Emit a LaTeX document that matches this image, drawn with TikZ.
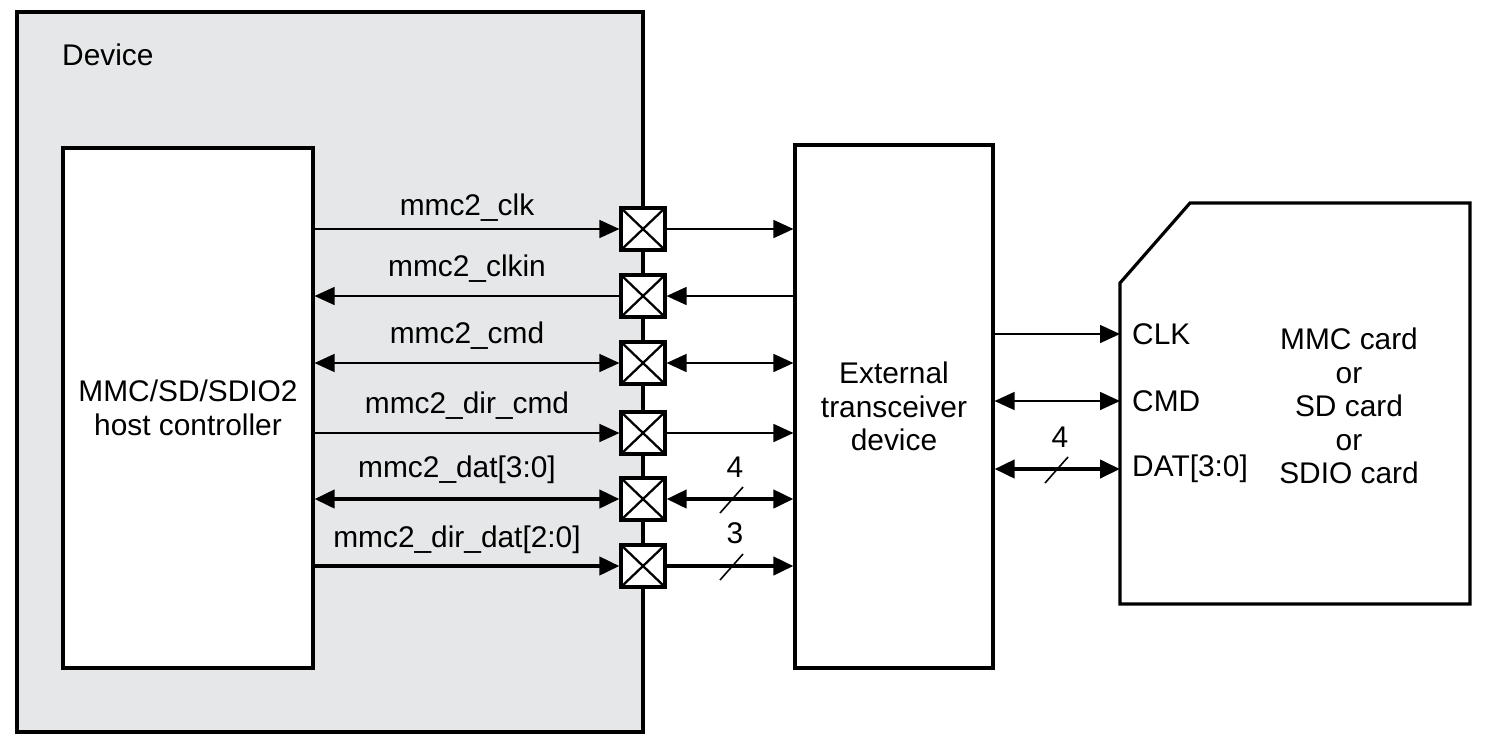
\documentclass[tikz,border=0pt]{standalone}
\usepackage{fontspec}
\setmainfont{Liberation Sans}
\usetikzlibrary{arrows.meta}
\definecolor{devgray}{HTML}{E6E7E8}
\begin{document}
\begin{tikzpicture}[x=0.02cm,y=-0.02cm,
    font=\fontsize{17}{19}\selectfont,
    >={Triangle[length=0.4cm,width=0.36cm]},
    box/.style={draw, line width=1.8pt, fill=white, align=center},
    pad/.style={draw, line width=1.8pt, fill=white, minimum width=0.88cm,
      minimum height=0.84cm, inner sep=0pt,
      path picture={\draw[line width=1.3pt]
        (path picture bounding box.south west) -- (path picture bounding box.north east)
        (path picture bounding box.north west) -- (path picture bounding box.south east);}},
    sig/.style={line width=0.9pt},
    bus/.style={line width=2.3pt},
    slash/.style={line width=0.9pt},
    lbl/.style={above, inner sep=7.5pt}]

\useasboundingbox (0,0) rectangle (1490,738);

% -------------------------------------------------
% Device
% -------------------------------------------------
\draw[line width=1.8pt, fill=devgray] (17,12) rectangle (643,732);
\node[anchor=west] (devlbl) at (56,55) {Device};

% -------------------------------------------------
% Blocks
% -------------------------------------------------
\node[box, minimum width=5cm, minimum height=10.4cm] (hc) at (188,408)
  {MMC/SD/SDIO2\\host controller};
\node[box, minimum width=3.96cm, minimum height=10.46cm] (xcvr) at (894,406.5)
  {External\\transceiver\\device};

% card
\draw[line width=1.8pt, fill=white] (1120,283) -- (1190,203) -- (1470,203)
  -- (1470,604) -- (1120,604) -- cycle;
\coordinate (cardL) at (1120,400);
\node[align=center] (cardtxt) at (1349,406)
  {MMC card\\or\\SD card\\or\\SDIO card};

% -------------------------------------------------
% Pads
% -------------------------------------------------
\foreach \i/\y in {1/229,2/296,3/363,4/433,5/499,6/566}
  \node[pad] (p\i) at (643,\y) {};

% -------------------------------------------------
% Host side
% -------------------------------------------------
\draw[sig, ->] (hc.east |- p1) -- node[lbl, inner sep=4pt] {mmc2\_clk} (p1.west);
\draw[sig, <-] (hc.east |- p2) -- node[lbl] {mmc2\_clkin} (p2.west);
\draw[sig, <->] (hc.east |- p3) -- node[lbl] {mmc2\_cmd} (p3.west);
\draw[sig, ->] (hc.east |- p4) -- node[lbl] {mmc2\_dir\_cmd} (p4.west);
\draw[bus, <->] (hc.east |- p5) -- node[lbl, xshift=-0.2cm] {mmc2\_dat[3:0]} (p5.west);
\draw[bus, ->] (hc.east |- p6) -- node[lbl, xshift=-0.2cm, inner sep=6pt] {mmc2\_dir\_dat[2:0]} (p6.west);

% -------------------------------------------------
% Transceiver side
% -------------------------------------------------
\draw[sig, ->] (p1.east) -- (xcvr.west |- p1);
\draw[sig, <-] (p2.east) -- (xcvr.west |- p2);
\draw[sig, <->] (p3.east) -- (xcvr.west |- p3);
\draw[sig, ->] (p4.east) -- (xcvr.west |- p4);
\draw[bus, <->] (p5.east) -- (xcvr.west |- p5);
\draw[bus, ->] (p6.east) -- (xcvr.west |- p6);

\draw[slash] (720,513) -- (743,487);
\node (w4) at (735,467) {4};
\draw[slash] (720,580) -- (743,554);
\node (w3) at (735,533) {3};

% -------------------------------------------------
% Card side
% -------------------------------------------------
\node[anchor=west] (clk) at (1126,334) {CLK};
\node[anchor=west] (cmd) at (1126,401) {CMD};
\node[anchor=west] (dat) at (1126,469) {DAT[3:0]};

\draw[sig, ->] (xcvr.east |- clk) -- (cardL |- clk);
\draw[sig, <->] (xcvr.east |- cmd) -- (cardL |- cmd);
\draw[bus, <->] (xcvr.east |- dat) -- (cardL |- dat);
\draw[slash] (1045,483) -- (1068,457);
\node (wd) at (1060,437) {4};

\end{tikzpicture}
\end{document}
